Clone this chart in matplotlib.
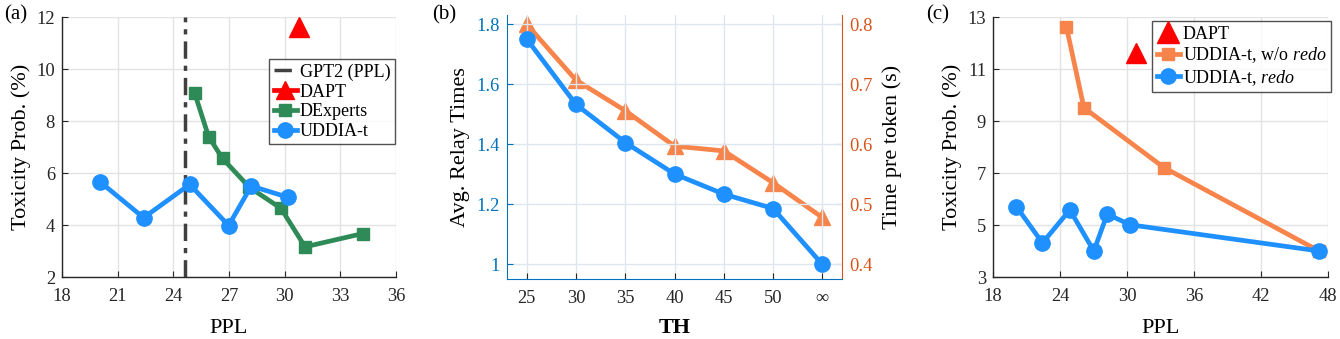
import matplotlib
matplotlib.use("Agg")
import matplotlib.pyplot as plt
from matplotlib.lines import Line2D

plt.rcParams['font.family'] = ['Liberation Serif', 'DejaVu Serif']
plt.rcParams['mathtext.fontset'] = 'custom'
plt.rcParams['mathtext.rm'] = 'Liberation Serif'
plt.rcParams['mathtext.it'] = 'Liberation Serif:italic'
plt.rcParams['mathtext.bf'] = 'Liberation Serif:bold'

# ---------------- data ----------------
# (a)
gpt2_ppl = 24.65
dapt_ppl, dapt_tox = 30.75, 11.62
dexp_ppl = [25.15, 25.9, 26.65, 28.1, 29.8, 31.1, 34.2]
dexp_tox = [9.07, 7.4, 6.56, 5.45, 4.64, 3.16, 3.67]
uddia_ppl = [20.05, 22.4, 24.88, 26.98, 28.2, 30.2]
uddia_tox = [5.66, 4.28, 5.56, 3.98, 5.5, 5.06]

# (b)
th_labels = ['25', '30', '35', '40', '45', '50', '\u221e']
relay_times = [1.751, 1.533, 1.406, 1.301, 1.234, 1.186, 1.0]
time_per_token = [0.80, 0.707, 0.656, 0.597, 0.589, 0.536, 0.478]

# (c)
noredo_ppl = [24.58, 26.14, 33.3, 47.2]
noredo_tox = [12.61, 9.51, 7.21, 4.0]
redo_ppl = [20.09, 22.43, 24.88, 27.03, 28.23, 30.26, 47.2]
redo_tox = [5.71, 4.31, 5.58, 4.0, 5.42, 5.01, 4.0]
dapt_c_ppl, dapt_c_tox = 30.77, 11.6

# ---------------- style ----------------
BLUE = '#1E90FF'
GREEN = '#2E8B57'
RED = '#FF0000'
ORANGE = '#F7844A'
LBLUE = (0, 0.447, 0.741)
LORANGE = (0.85, 0.325, 0.098)
GRID = '#e3e3e3'
TICK_FS = 13.3
LAB_FS = 16
LEG_FS = 13
LW = 3.4
MS_C = 11
MS_S = 9
MS_T = 12
MS_DAPT = 15

fig = plt.figure(figsize=(13.4, 3.39), dpi=100)
W, H = 1340, 339


def add_ax(l, r, t, b):
    return fig.add_axes([l / W, 1 - b / H, (r - l) / W, (b - t) / H])


def style_ax(ax):
    for s in ['top', 'right']:
        ax.spines[s].set_visible(False)
    for s in ['left', 'bottom']:
        ax.spines[s].set_color('#262626')
        ax.spines[s].set_linewidth(1.0)
    ax.grid(True, color=GRID, linewidth=1.0)
    ax.set_axisbelow(True)
    ax.tick_params(direction='in', length=4, labelsize=TICK_FS, colors='#262626')
    ax.tick_params(axis='y', pad=5)
    ax.tick_params(axis='x', pad=8)


# ---- (a) ----
axa = add_ax(62, 396, 17, 277)
style_ax(axa)
axa.axvline(gpt2_ppl, color='#404040', linestyle=(0, (5, 2, 1.5, 2)), linewidth=2.5, zorder=2)
axa.plot(dexp_ppl, dexp_tox, color=GREEN, marker='s', markersize=MS_S, linewidth=LW, zorder=3)
axa.plot(uddia_ppl, uddia_tox, color=BLUE, marker='o', markersize=MS_C, linewidth=LW, zorder=4)
axa.plot([dapt_ppl], [dapt_tox], color=RED, marker='^', markersize=MS_DAPT, linestyle='none', zorder=5)
axa.set_xlim(18, 36)
axa.set_ylim(2, 12)
axa.set_xticks([18, 21, 24, 27, 30, 33, 36])
axa.set_yticks([2, 4, 6, 8, 10, 12])
axa.set_xlabel('PPL', fontsize=LAB_FS, labelpad=10)
axa.set_ylabel('Toxicity Prob. (%)', fontsize=LAB_FS, labelpad=4)
handles_a = [
    Line2D([], [], color='#404040', linestyle=(0, (5, 2, 1.5, 2)), linewidth=2.5),
    Line2D([], [], color=RED, marker='^', markersize=MS_T + 1, linewidth=LW),
    Line2D([], [], color=GREEN, marker='s', markersize=MS_S, linewidth=LW),
    Line2D([], [], color=BLUE, marker='o', markersize=MS_C, linewidth=LW),
]
leg = axa.legend(handles_a, ['GPT2 (PPL)', 'DAPT', 'DExperts', 'UDDIA-t'],
                 loc='upper left', bbox_to_anchor=((269 - 62) / 334, 1 - (59 - 17) / 260),
                 fontsize=LEG_FS, frameon=True, fancybox=False, edgecolor='#262626',
                 handlelength=1.3, handletextpad=0.15, borderpad=0.25, labelspacing=0.15,
                 borderaxespad=0)
leg.get_frame().set_linewidth(1.0)
fig.text(4 / W, 1 - 19 / H, '(a)', fontsize=15, va='baseline', ha='left')

# ---- (b) ----
axb = add_ax(507, 842, 15, 279)
x_idx = list(range(len(th_labels)))
axb.grid(True, color='#dde6ee', linewidth=1.0)
axb.set_axisbelow(True)
axb.plot(x_idx, relay_times, color=BLUE, marker='o', markersize=MS_C, linewidth=LW, zorder=3)
axb.set_xlim(-0.4, 6.4)
axb.set_ylim(0.951, 1.831)
axb.set_yticks([1, 1.2, 1.4, 1.6, 1.8])
axb.set_yticklabels(['1', '1.2', '1.4', '1.6', '1.8'])
axb.set_xticks(x_idx)
axb.set_xticklabels(th_labels)
axb.tick_params(axis='y', direction='in', length=4, labelsize=TICK_FS, colors=LBLUE, pad=5)
axb.tick_params(axis='x', direction='in', length=4, labelsize=TICK_FS, colors='#262626', pad=8)
axb.spines['top'].set_visible(False)
axb.spines['right'].set_visible(False)
axb.spines['left'].set_color(LBLUE)
axb.spines['bottom'].set_color(LBLUE)
axb.set_xlabel('TH', fontsize=LAB_FS, fontweight='bold', labelpad=8)
axb.set_ylabel('Avg. Relay Times', fontsize=LAB_FS, labelpad=5)

axb2 = axb.twinx()
axb2.plot(x_idx, time_per_token, color=ORANGE, marker='^', markersize=MS_T, linewidth=LW, zorder=2)
axb2.set_ylim(0.3755, 0.8155)
axb2.set_yticks([0.4, 0.5, 0.6, 0.7, 0.8])
axb2.tick_params(axis='y', direction='in', length=4, labelsize=TICK_FS, colors=LORANGE, pad=5)
axb2.spines['top'].set_visible(False)
axb2.spines['left'].set_visible(False)
axb2.spines['bottom'].set_visible(False)
axb2.spines['right'].set_color(LORANGE)
axb2.set_ylabel('Time pre token (s)', fontsize=LAB_FS, labelpad=7)
axb.set_zorder(axb2.get_zorder() + 1)
axb.patch.set_visible(False)
fig.text(432 / W, 1 - 19 / H, '(b)', fontsize=15, va='baseline', ha='left')

# ---- (c) ----
axc = add_ax(993, 1328, 17, 277)
style_ax(axc)
axc.plot(noredo_ppl, noredo_tox, color=ORANGE, marker='s', markersize=MS_S, linewidth=LW, zorder=3)
axc.plot(redo_ppl, redo_tox, color=BLUE, marker='o', markersize=MS_C, linewidth=LW, zorder=4)
axc.plot([dapt_c_ppl], [dapt_c_tox], color=RED, marker='^', markersize=MS_DAPT, linestyle='none', zorder=5)
axc.set_xlim(18, 48)
axc.set_ylim(3, 13)
axc.set_xticks([18, 24, 30, 36, 42, 48])
axc.set_yticks([3, 5, 7, 9, 11, 13])
axc.set_xlabel('PPL', fontsize=LAB_FS, labelpad=10)
axc.set_ylabel('Toxicity Prob. (%)', fontsize=LAB_FS, labelpad=4)
handles_c = [
    Line2D([], [], color=RED, marker='^', markersize=MS_DAPT + 1, linestyle='none'),
    Line2D([], [], color=ORANGE, marker='s', markersize=MS_S, linewidth=LW),
    Line2D([], [], color=BLUE, marker='o', markersize=MS_C, linewidth=LW),
]
legc = axc.legend(handles_c, ['DAPT', 'UDDIA-t, w/o $\\it{redo}$', 'UDDIA-t, $\\it{redo}$'],
                  loc='upper left', bbox_to_anchor=((1152 - 993) / 335, 1 - (21 - 17) / 260),
                  fontsize=LEG_FS, frameon=True, fancybox=False, edgecolor='#262626',
                  handlelength=1.3, handletextpad=0.15, borderpad=0.25, labelspacing=0.15,
                  borderaxespad=0)
legc.get_frame().set_linewidth(1.0)
fig.text(926 / W, 1 - 19 / H, '(c)', fontsize=15, va='baseline', ha='left')

fig.savefig('out.png', dpi=100)
